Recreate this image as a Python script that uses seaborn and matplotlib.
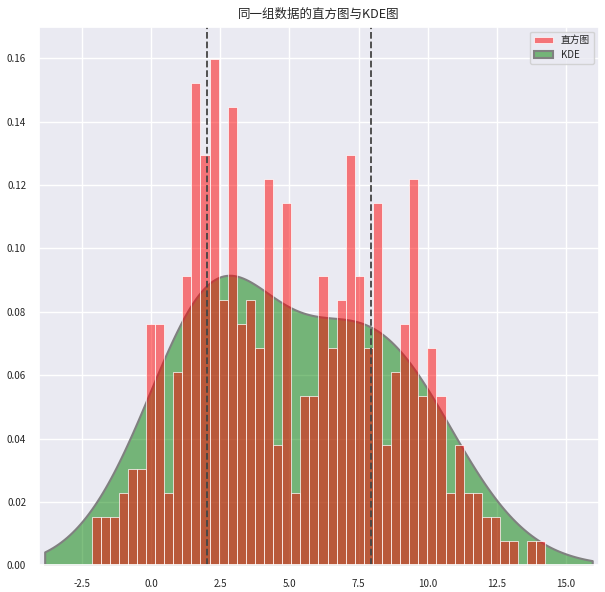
import numpy as np
import pandas as pd
import matplotlib
matplotlib.use("Agg")
import matplotlib.pyplot as plt
import seaborn as sns

bin_start = -2.16
bin_end = 14.26
counts = [2, 2, 2, 3, 4, 4, 10, 10, 3, 8, 12, 20, 17, 21, 11, 19, 10, 11, 9,
          16, 5, 15, 3, 7, 7, 12, 9, 11, 17, 12, 9, 15, 5, 8, 10, 16, 7,
          9, 7, 3, 5, 3, 3, 2, 2, 1, 1, 0, 1, 1]
mean_lines = [2.0, 7.95]

sns.set_theme(style="darkgrid")
plt.rcParams['font.family'] = ['Noto Sans CJK SC', 'DejaVu Sans']
plt.rcParams['axes.unicode_minus'] = False

nb = len(counts)
width = (bin_end - bin_start) / nb
centers = bin_start + width * (np.arange(nb) + 0.5)
df = pd.DataFrame({"v": centers, "w": counts})

fig, ax = plt.subplots(figsize=(6.05, 5.92), dpi=100)
sns.kdeplot(data=df, x="v", weights="w", fill=True, color="green", alpha=0.5,
            cut=0.85, bw_adjust=1.0, edgecolor="gray", linewidth=1.5,
            label="KDE", ax=ax)
sns.histplot(data=df, x="v", weights="w", bins=nb, binrange=(bin_start, bin_end),
             stat="density", color="red", alpha=0.5, edgecolor="white",
             linewidth=0.5, label="直方图", ax=ax)
for m in mean_lines:
    ax.axvline(m, color="#444444", linestyle="--", linewidth=1.3)
ax.set_ylim(0, 0.17)
ax.set_xlim(-4.05, 16.2)
ax.set_xlabel("")
ax.set_ylabel("")
ax.set_title("同一组数据的直方图与KDE图", fontsize=9)
ax.tick_params(labelsize=7)
h, l = ax.get_legend_handles_labels()
ax.legend([h[1], h[0]], [l[1], l[0]], loc="upper right", fontsize=7)
fig.subplots_adjust(left=0.065, right=0.99, top=0.955, bottom=0.045)
fig.savefig("out.png", dpi=100)
